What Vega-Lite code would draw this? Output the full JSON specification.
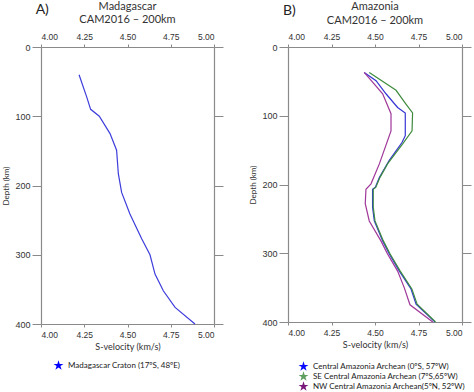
{
  "$schema": "https://vega.github.io/schema/vega-lite/v6.json",
  "background": "white",
  "padding": {"left": 2, "top": 0, "right": 2, "bottom": 2},
  "datasets": {
    "mada": [
      {"series": "Madagascar Craton (17ºS, 48ºE)", "depth": 40, "velocity": 4.22},
      {"series": "Madagascar Craton (17ºS, 48ºE)", "depth": 72, "velocity": 4.264},
      {"series": "Madagascar Craton (17ºS, 48ºE)", "depth": 90, "velocity": 4.287},
      {"series": "Madagascar Craton (17ºS, 48ºE)", "depth": 100, "velocity": 4.337},
      {"series": "Madagascar Craton (17ºS, 48ºE)", "depth": 125, "velocity": 4.399},
      {"series": "Madagascar Craton (17ºS, 48ºE)", "depth": 149, "velocity": 4.437},
      {"series": "Madagascar Craton (17ºS, 48ºE)", "depth": 183, "velocity": 4.447},
      {"series": "Madagascar Craton (17ºS, 48ºE)", "depth": 210, "velocity": 4.466},
      {"series": "Madagascar Craton (17ºS, 48ºE)", "depth": 241, "velocity": 4.514},
      {"series": "Madagascar Craton (17ºS, 48ºE)", "depth": 277, "velocity": 4.582},
      {"series": "Madagascar Craton (17ºS, 48ºE)", "depth": 300, "velocity": 4.63},
      {"series": "Madagascar Craton (17ºS, 48ºE)", "depth": 328, "velocity": 4.659},
      {"series": "Madagascar Craton (17ºS, 48ºE)", "depth": 352, "velocity": 4.707},
      {"series": "Madagascar Craton (17ºS, 48ºE)", "depth": 376, "velocity": 4.775},
      {"series": "Madagascar Craton (17ºS, 48ºE)", "depth": 400, "velocity": 4.89}
    ],
    "amaz": [
      {"series": "Central Amazonia Archean (0ºS, 57ºW)", "depth": 37, "velocity": 4.438},
      {"series": "Central Amazonia Archean (0ºS, 57ºW)", "depth": 49, "velocity": 4.506},
      {"series": "Central Amazonia Archean (0ºS, 57ºW)", "depth": 68, "velocity": 4.563},
      {"series": "Central Amazonia Archean (0ºS, 57ºW)", "depth": 88, "velocity": 4.63},
      {"series": "Central Amazonia Archean (0ºS, 57ºW)", "depth": 96, "velocity": 4.674},
      {"series": "Central Amazonia Archean (0ºS, 57ºW)", "depth": 129, "velocity": 4.674},
      {"series": "Central Amazonia Archean (0ºS, 57ºW)", "depth": 139, "velocity": 4.655},
      {"series": "Central Amazonia Archean (0ºS, 57ºW)", "depth": 165, "velocity": 4.582},
      {"series": "Central Amazonia Archean (0ºS, 57ºW)", "depth": 190, "velocity": 4.525},
      {"series": "Central Amazonia Archean (0ºS, 57ºW)", "depth": 204, "velocity": 4.502},
      {"series": "Central Amazonia Archean (0ºS, 57ºW)", "depth": 207, "velocity": 4.486},
      {"series": "Central Amazonia Archean (0ºS, 57ºW)", "depth": 233, "velocity": 4.486},
      {"series": "Central Amazonia Archean (0ºS, 57ºW)", "depth": 253, "velocity": 4.496},
      {"series": "Central Amazonia Archean (0ºS, 57ºW)", "depth": 282, "velocity": 4.544},
      {"series": "Central Amazonia Archean (0ºS, 57ºW)", "depth": 301, "velocity": 4.582},
      {"series": "Central Amazonia Archean (0ºS, 57ºW)", "depth": 326, "velocity": 4.64},
      {"series": "Central Amazonia Archean (0ºS, 57ºW)", "depth": 352, "velocity": 4.707},
      {"series": "Central Amazonia Archean (0ºS, 57ºW)", "depth": 374, "velocity": 4.736},
      {"series": "Central Amazonia Archean (0ºS, 57ºW)", "depth": 400, "velocity": 4.845},
      {"series": "SE Central Amazonia Archean (7ºS,65ºW)", "depth": 37, "velocity": 4.467},
      {"series": "SE Central Amazonia Archean (7ºS,65ºW)", "depth": 63, "velocity": 4.621},
      {"series": "SE Central Amazonia Archean (7ºS,65ºW)", "depth": 83, "velocity": 4.678},
      {"series": "SE Central Amazonia Archean (7ºS,65ºW)", "depth": 96, "velocity": 4.716},
      {"series": "SE Central Amazonia Archean (7ºS,65ºW)", "depth": 122, "velocity": 4.713},
      {"series": "SE Central Amazonia Archean (7ºS,65ºW)", "depth": 141, "velocity": 4.659},
      {"series": "SE Central Amazonia Archean (7ºS,65ºW)", "depth": 170, "velocity": 4.572},
      {"series": "SE Central Amazonia Archean (7ºS,65ºW)", "depth": 190, "velocity": 4.528},
      {"series": "SE Central Amazonia Archean (7ºS,65ºW)", "depth": 204, "velocity": 4.505},
      {"series": "SE Central Amazonia Archean (7ºS,65ºW)", "depth": 207, "velocity": 4.49},
      {"series": "SE Central Amazonia Archean (7ºS,65ºW)", "depth": 233, "velocity": 4.49},
      {"series": "SE Central Amazonia Archean (7ºS,65ºW)", "depth": 253, "velocity": 4.5},
      {"series": "SE Central Amazonia Archean (7ºS,65ºW)", "depth": 282, "velocity": 4.548},
      {"series": "SE Central Amazonia Archean (7ºS,65ºW)", "depth": 301, "velocity": 4.587},
      {"series": "SE Central Amazonia Archean (7ºS,65ºW)", "depth": 326, "velocity": 4.645},
      {"series": "SE Central Amazonia Archean (7ºS,65ºW)", "depth": 352, "velocity": 4.712},
      {"series": "SE Central Amazonia Archean (7ºS,65ºW)", "depth": 374, "velocity": 4.742},
      {"series": "SE Central Amazonia Archean (7ºS,65ºW)", "depth": 400, "velocity": 4.848},
      {"series": "NW Central Amazonia Archean(5ºN, 52ºW)", "depth": 37, "velocity": 4.438},
      {"series": "NW Central Amazonia Archean(5ºN, 52ºW)", "depth": 68, "velocity": 4.544},
      {"series": "NW Central Amazonia Archean(5ºN, 52ºW)", "depth": 97, "velocity": 4.592},
      {"series": "NW Central Amazonia Archean(5ºN, 52ºW)", "depth": 122, "velocity": 4.592},
      {"series": "NW Central Amazonia Archean(5ºN, 52ºW)", "depth": 170, "velocity": 4.525},
      {"series": "NW Central Amazonia Archean(5ºN, 52ºW)", "depth": 199, "velocity": 4.477},
      {"series": "NW Central Amazonia Archean(5ºN, 52ºW)", "depth": 207, "velocity": 4.448},
      {"series": "NW Central Amazonia Archean(5ºN, 52ºW)", "depth": 228, "velocity": 4.444},
      {"series": "NW Central Amazonia Archean(5ºN, 52ºW)", "depth": 253, "velocity": 4.467},
      {"series": "NW Central Amazonia Archean(5ºN, 52ºW)", "depth": 282, "velocity": 4.534},
      {"series": "NW Central Amazonia Archean(5ºN, 52ºW)", "depth": 301, "velocity": 4.572},
      {"series": "NW Central Amazonia Archean(5ºN, 52ºW)", "depth": 326, "velocity": 4.63},
      {"series": "NW Central Amazonia Archean(5ºN, 52ºW)", "depth": 350, "velocity": 4.668},
      {"series": "NW Central Amazonia Archean(5ºN, 52ºW)", "depth": 375, "velocity": 4.701},
      {"series": "NW Central Amazonia Archean(5ºN, 52ºW)", "depth": 400, "velocity": 4.832}
    ],
    "labA": [{"label": "A)"}],
    "labB": [{"label": "B)"}]
  },
  "spacing": 25,
  "resolve": {"scale": {"color": "independent", "x": "independent", "y": "independent"}, "legend": {"color": "independent"}},
  "hconcat": [
    {
      "width": 173,
      "height": 277,
      "title": {"text": ["Madagascar", "CAM2016 – 200km"], "anchor": "middle", "frame": "group", "fontSize": 11, "font": "Lato", "fontWeight": "normal", "color": "#333", "lineHeight": 13.5, "offset": -22},
      "layer": [
        {
          "data": {"name": "mada"},
          "mark": {"type": "line", "strokeWidth": 1.2},
          "encoding": {
            "x": {"field": "velocity", "type": "quantitative", "scale": {"domain": [4, 5], "nice": false, "zero": false},
                  "axis": {"orient": "bottom", "title": "S-velocity (km/s)", "values": [4, 4.25, 4.5, 4.75, 5], "format": ".2f"}},
            "y": {"field": "depth", "type": "quantitative", "scale": {"domain": [0, 400], "reverse": true, "nice": false, "zero": false},
                  "axis": {"orient": "left", "title": "Depth (km)", "values": [0, 100, 200, 300, 400]}},
            "order": {"field": "depth", "type": "quantitative"},
            "color": {"field": "series", "type": "nominal", "scale": {"range": ["#3d3ddc"]},
                      "legend": {"orient": "none", "legendX": 12, "legendY": 313, "title": null,
                                 "symbolType": "M0,-1L0.2245,-0.309L0.951,-0.309L0.363,0.118L0.588,0.809L0,0.382L-0.588,0.809L-0.363,0.118L-0.951,-0.309L-0.2245,-0.309Z",
                                 "symbolSize": 110, "symbolStrokeWidth": 0, "labelFontSize": 8, "labelFont": "Lato", "labelColor": "#222", "rowPadding": 0, "labelOffset": 4, "padding": 0,
                                 "encode": {"symbols": {"update": {"fill": {"value": "#0000ff"}, "strokeWidth": {"value": 0}}}}}}
          }
        },
        {
          "data": {"name": "labA"},
          "mark": {"type": "text", "align": "left", "baseline": "middle", "fontSize": 14, "font": "Lato", "color": "#222"},
          "encoding": {
            "x": {"datum": 3.969, "type": "quantitative", "scale": {"domain": [4, 5], "nice": false, "zero": false},
                  "axis": {"orient": "top", "title": null, "values": [4, 4.25, 4.5, 4.75, 5], "format": ".2f"}},
            "y": {"datum": -53, "type": "quantitative", "scale": {"domain": [0, 400], "reverse": true, "nice": false, "zero": false},
                  "axis": {"orient": "right", "title": null, "labels": false, "values": [0, 100, 200, 300, 400]}},
            "text": {"field": "label"}
          }
        }
      ],
      "resolve": {"axis": {"x": "independent", "y": "independent"}}
    },
    {
      "width": 174,
      "height": 275,
      "title": {"text": ["Amazonia", "CAM2016 – 200km"], "anchor": "middle", "frame": "group", "fontSize": 11, "font": "Lato", "fontWeight": "normal", "color": "#333", "lineHeight": 13.5, "offset": -22},
      "layer": [
        {
          "data": {"name": "amaz"},
          "mark": {"type": "line", "strokeWidth": 1.2},
          "encoding": {
            "x": {"field": "velocity", "type": "quantitative", "scale": {"domain": [4, 5], "nice": false, "zero": false},
                  "axis": {"orient": "bottom", "title": "S-velocity (km/s)", "values": [4, 4.25, 4.5, 4.75, 5], "format": ".2f"}},
            "y": {"field": "depth", "type": "quantitative", "scale": {"domain": [0, 400], "reverse": true, "nice": false, "zero": false},
                  "axis": {"orient": "left", "title": "Depth (km)", "values": [0, 100, 200, 300, 400]}},
            "order": {"field": "depth", "type": "quantitative"},
            "color": {"field": "series", "type": "nominal",
                      "scale": {"domain": ["Central Amazonia Archean (0ºS, 57ºW)", "SE Central Amazonia Archean (7ºS,65ºW)", "NW Central Amazonia Archean(5ºN, 52ºW)"],
                                "range": ["#3535d5", "#3f8c3f", "#a0379a"]},
                      "legend": {"orient": "none", "legendX": 10, "legendY": 314, "title": null,
                                 "symbolType": "M0,-1L0.2245,-0.309L0.951,-0.309L0.363,0.118L0.588,0.809L0,0.382L-0.588,0.809L-0.363,0.118L-0.951,-0.309L-0.2245,-0.309Z",
                                 "symbolSize": 110, "symbolStrokeWidth": 0, "labelFontSize": 8, "labelFont": "Lato", "labelColor": "#222", "rowPadding": 0, "labelOffset": 4, "padding": 0,
                                 "encode": {"symbols": {"update": {"fill": {"signal": "substring(datum.value, 0, 2) === 'SE' ? '#5e9e5e' : substring(datum.value, 0, 2) === 'NW' ? '#7a187a' : '#0a0aff'"}, "strokeWidth": {"value": 0}}}}}}
          }
        },
        {
          "data": {"name": "labB"},
          "mark": {"type": "text", "align": "left", "baseline": "middle", "fontSize": 14, "font": "Lato", "color": "#222"},
          "encoding": {
            "x": {"datum": 3.971, "type": "quantitative", "scale": {"domain": [4, 5], "nice": false, "zero": false},
                  "axis": {"orient": "top", "title": null, "values": [4, 4.25, 4.5, 4.75, 5], "format": ".2f"}},
            "y": {"datum": -53, "type": "quantitative", "scale": {"domain": [0, 400], "reverse": true, "nice": false, "zero": false},
                  "axis": {"orient": "right", "title": null, "labels": false, "values": [0, 100, 200, 300, 400]}},
            "text": {"field": "label"}
          }
        }
      ],
      "resolve": {"axis": {"x": "independent", "y": "independent"}}
    }
  ],
  "config": {
    "view": {"stroke": null},
    "axis": {"grid": false, "domainColor": "#8a8a8a", "tickColor": "#8a8a8a", "domainWidth": 1.2, "tickWidth": 1,
             "labelColor": "#333", "labelFont": "Liberation Sans", "labelFontSize": 8.5,
             "titleFont": "Lato", "titleFontWeight": "normal", "titleColor": "#333", "titleFontSize": 9},
    "axisY": {"tickSize": 9, "labelFontSize": 9, "titleFontSize": 8},
    "axisX": {"tickSize": 3, "labelPadding": 3}
  }
}
